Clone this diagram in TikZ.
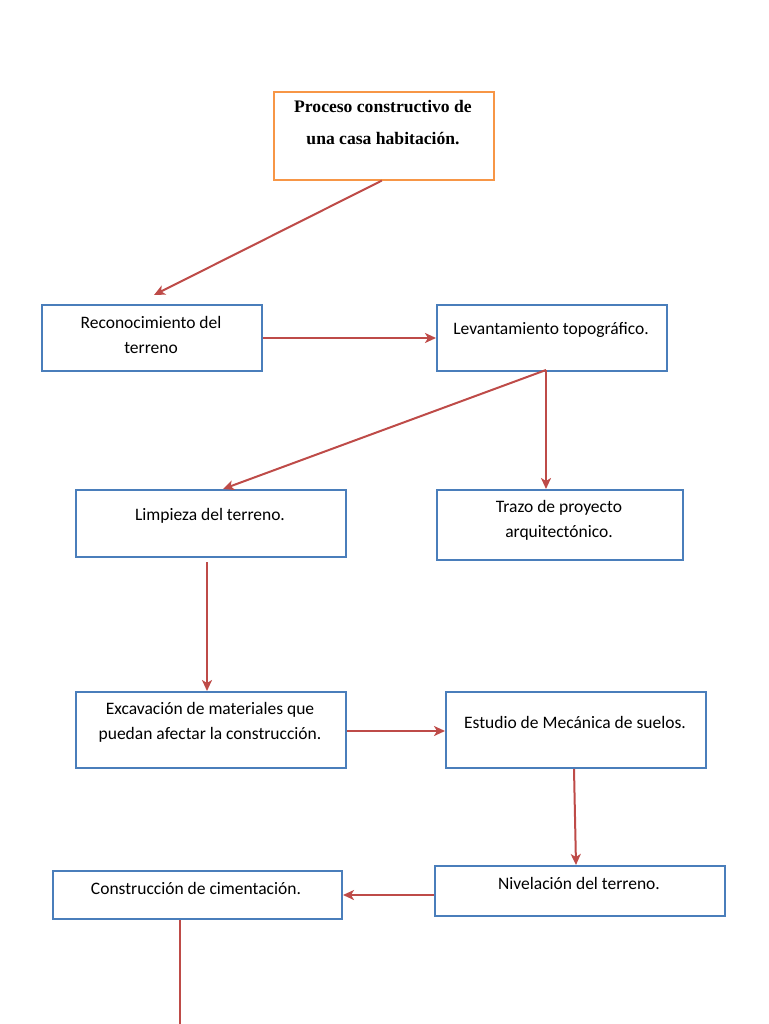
\documentclass[tikz,border=0pt]{standalone}
\usepackage{fontspec}
\setmainfont{Carlito}
\newfontfamily\titlefont{Liberation Serif}
\usetikzlibrary{arrows.meta}
\definecolor{boxblue}{HTML}{4A7EBB}
\definecolor{boxorange}{HTML}{F79646}
\definecolor{arrred}{HTML}{BE4B48}
\begin{document}
\begin{tikzpicture}[x=1pt,y=-1pt,
  box/.style={draw=boxblue,line width=2pt,fill=white,inner sep=0pt,anchor=north west},
  tbox/.style={draw=boxorange,line width=1.6pt,fill=white,inner sep=0pt,anchor=north west},
  txt/.style={font=\fontsize{17.5}{25}\selectfont,align=center,inner sep=0pt,text=black},
  arr/.style={draw=arrred,line width=2pt,-{Stealth[length=11pt,width=10pt,inset=3pt]}},
  ln/.style={draw=arrred,line width=2pt}]
\useasboundingbox (0,0) rectangle (768,1024);
% boxes
\node[tbox,minimum width=220pt,minimum height=88pt] (title) at (273,91) {};
\node[box,minimum width=220pt,minimum height=66pt] (rec) at (41,304) {};
\node[box,minimum width=230pt,minimum height=66pt] (lev) at (436,304) {};
\node[box,minimum width=270pt,minimum height=67pt] (lim) at (75,489) {};
\node[box,minimum width=246pt,minimum height=70pt] (tra) at (436,489) {};
\node[box,minimum width=270pt,minimum height=76pt] (exc) at (75,691) {};
\node[box,minimum width=260pt,minimum height=76pt] (est) at (445,691) {};
\node[box,minimum width=290pt,minimum height=50pt] (niv) at (434,865) {};
\node[box,minimum width=289pt,minimum height=48pt] (con) at (52,870) {};
% texts
\node[inner sep=0pt,align=center,font=\titlefont\bfseries\fontsize{17.6}{32}\selectfont] (ttitle) at (383,123) {Proceso constructivo de\\una casa habitación.};
\node[txt] (trec) at (151,335) {Reconocimiento del\\terreno};
\node[txt] (tlev) at (551,330) {Levantamiento topográfico.};
\node[txt] (tlim) at (210,516) {Limpieza del terreno.};
\node[txt] (ttra) at (559,520) {Trazo de proyecto\\arquitectónico.};
\node[txt] (texc) at (210,722) {Excavación de materiales que\\puedan afectar la construcción.};
\node[txt] (test) at (575,722) {Estudio de Mecánica de suelos.};
\node[txt] (tniv) at (579,883) {Nivelación del terreno.};
\node[txt] (tcon) at (196,888) {Construcción de cimentación.};
% connectors
\coordinate (levb) at (546,370);
\coordinate (endc) at (180,1024);
\draw[arr] ([xshift=-2pt]title.south) -- ([xshift=2pt,yshift=9pt]rec.north);
\draw[arr] (rec.east) -- (lev.west);
\draw[arr] (levb) -- ([xshift=12pt]lim.north);
\draw[arr] (levb) -- (levb |- tra.north);
\draw[arr] ([xshift=-4pt,yshift=-4pt]lim.south) -- ([xshift=-4pt]exc.north);
\draw[arr] ([yshift=-1pt]exc.east) -- ([yshift=-1pt]est.west);
\draw[arr] ([xshift=-2pt]est.south) -- ([xshift=-4pt]niv.north);
\draw[arr] (niv.west |- con.east) -- (con.east);
\draw[ln] (endc |- con.south) -- (endc);
\end{tikzpicture}
\end{document}
